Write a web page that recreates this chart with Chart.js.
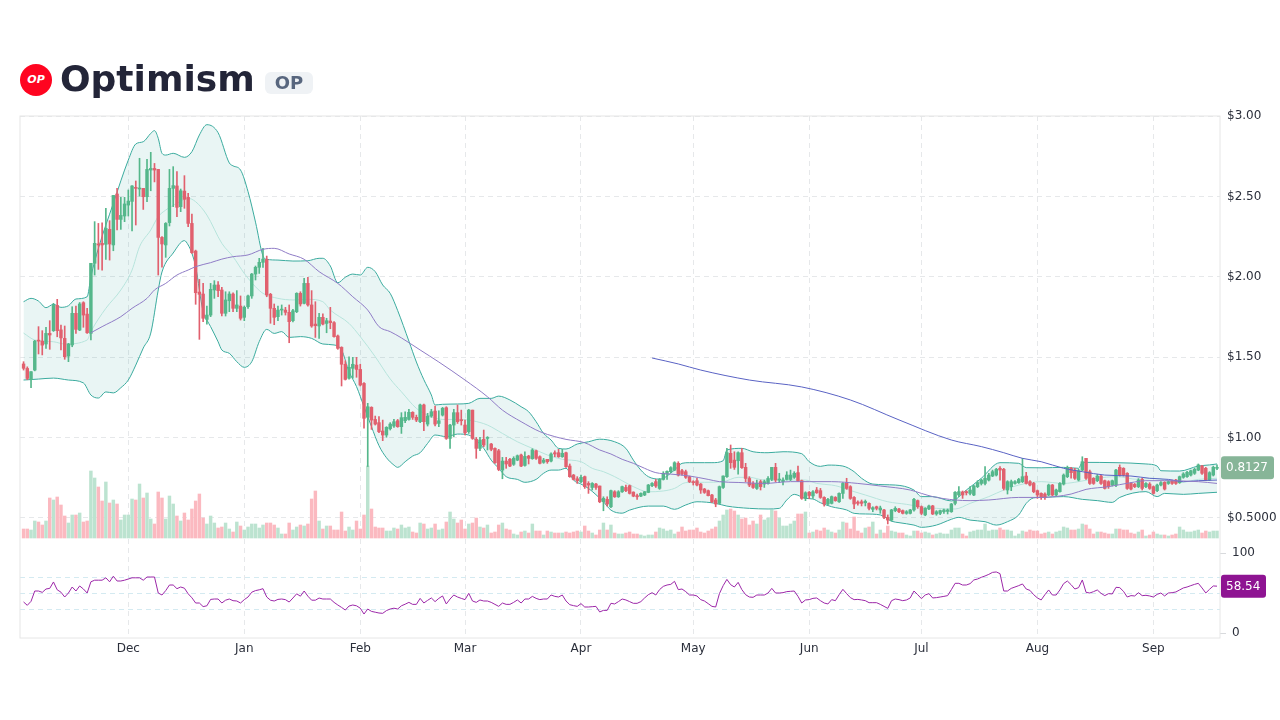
<!DOCTYPE html>
<html>
<head>
<meta charset="utf-8">
<title>Optimism</title>
<script src="https://cdn.jsdelivr.net/npm/chart.js@4"></script>
<style>
	body { margin: 0; background: #fff; font-family: 'DejaVu Sans', sans-serif; }
	#page { position: relative; width: 1280px; height: 720px; overflow: hidden; }
	#price-chart { position: absolute; left: 0; top: 0; }
	#logo { position: absolute; left: 20px; top: 64px; width: 32px; height: 32px; border-radius: 50%; background: #ff0420; color: #fff; font: italic bold 11px/32px 'DejaVu Sans'; text-align: center; }
	#name { position: absolute; left: 60px; top: 61px; font: bold 36px/36px 'DejaVu Sans'; color: #232538; }
	#symbol { position: absolute; left: 265px; top: 72px; width: 48px; height: 22px; border-radius: 6px; background: #eff2f5; color: #58667e; font: bold 18px/22px 'DejaVu Sans'; text-align: center; }
</style>
</head>
<body>
<div id="page">
	<canvas id="price-chart" width="1280" height="720"></canvas>
	<div id="logo">OP</div>
	<div id="name">Optimism</div>
	<div id="symbol">OP</div>
</div>
<script>
'use strict';

const opens = [
	1.458,1.43,1.36,1.42,1.605,1.6,1.582,1.648,1.665,1.822,
	1.67,1.617,1.507,1.576,1.773,1.669,1.839,1.768,1.648,2.084,
	2.204,2.208,2.202,2.295,2.198,2.515,2.357,2.378,2.446,2.469,
	2.556,2.546,2.55,2.498,2.664,2.674,2.668,2.245,2.198,2.337,
	2.55,2.565,2.436,2.533,2.494,2.332,2.16,1.905,1.893,1.735,
	1.762,1.918,1.949,1.918,1.773,1.851,1.893,1.804,1.818,1.748,
	1.814,1.881,2.017,2.059,2.09,2.108,1.891,1.804,1.752,1.793,
	1.793,1.779,1.727,1.783,1.897,1.835,1.959,1.825,1.706,1.694,
	1.748,1.71,1.725,1.715,1.632,1.561,1.456,1.369,1.431,1.451,
	1.424,1.337,1.126,1.188,1.113,1.093,1.041,1.016,1.055,1.072,
	1.105,1.068,1.105,1.113,1.157,1.126,1.099,1.203,1.084,1.134,
	1.165,1.088,1.14,1.186,.995,1.078,1.155,1.109,1.078,1.037,
	1.171,.989,.933,.989,.995,.96,.933,.918,.798,.854,
	.865,.834,.86,.892,.827,.885,.869,.918,.881,.846,
	.865,.854,.906,.906,.881,.906,.823,.767,.744,.726,
	.757,.715,.69,.711,.699,.601,.616,.57,.663,.632,
	.663,.69,.701,.661,.639,.636,.643,.659,.701,.726,
	.684,.74,.773,.788,.798,.84,.794,.788,.757,.726,
	.732,.711,.68,.67,.643,.612,.591,.69,.757,.902,
	.86,.856,.906,.815,.746,.715,.684,.726,.711,.715,
	.74,.815,.736,.726,.74,.74,.753,.782,.732,.622,
	.66,.637,.674,.67,.628,.587,.591,.628,.601,.653,
	.72,.695,.628,.599,.601,.595,.591,.554,.57,.55,
	.55,.504,.487,.546,.556,.546,.529,.529,.55,.608,
	.57,.519,.556,.575,.525,.529,.539,.541,.539,.591,
	.643,.662,.664,.653,.643,.695,.715,.715,.736,.761,
	.767,.809,.803,.674,.695,.715,.72,.726,.761,.726,
	.715,.67,.653,.649,.643,.705,.643,.664,.711,.757,
	.809,.798,.736,.798,.871,.788,.747,.732,.761,.732,
	.726,.705,.705,.815,.809,.778,.715,.709,.695,.74,
	.695,.711,.695,.67,.705,.722,.715,.732,.736,.72,
	.753,.757,.767,.778,.798,.823,.809,.736,.767,.809,
];
const highs = [
	1.472,1.44,1.41,1.605,1.69,1.665,1.686,1.727,1.835,1.86,
	1.7,1.694,1.586,1.814,1.818,1.84,1.845,1.804,2.084,2.343,
	2.332,2.336,2.426,2.349,2.506,2.55,2.494,2.494,2.54,2.567,
	2.596,2.737,2.55,2.73,2.774,2.705,2.668,2.25,2.337,2.668,
	2.685,2.654,2.546,2.629,2.519,2.39,2.166,1.984,1.959,1.818,
	1.959,1.976,1.97,1.934,1.907,1.907,1.901,1.914,1.881,1.818,
	1.887,2.021,2.067,2.115,2.177,2.129,1.897,1.831,1.818,1.825,
	1.81,1.825,1.798,1.901,1.907,1.99,1.997,1.914,1.845,1.773,
	1.769,1.742,1.81,1.721,1.638,1.565,1.478,1.503,1.499,1.499,
	1.456,1.342,1.213,1.192,1.134,1.13,1.109,1.068,1.093,1.113,
	1.113,1.155,1.161,1.176,1.161,1.14,1.209,1.209,1.151,1.176,
	1.196,1.167,1.188,1.192,1.082,1.176,1.203,1.171,1.109,1.176,
	1.171,1.001,1.001,1.047,1.006,.964,.937,.927,.877,.877,
	.871,.881,.892,.898,.912,.89,.931,.923,.887,.871,
	.865,.906,.918,.927,.927,.91,.836,.771,.757,.767,
	.761,.726,.72,.715,.699,.632,.632,.674,.67,.67,
	.699,.705,.705,.663,.649,.657,.665,.709,.721,.74,
	.746,.788,.794,.819,.85,.85,.802,.798,.761,.732,
	.746,.715,.684,.674,.647,.622,.699,.763,.933,.954,
	.912,.912,.933,.84,.757,.726,.736,.736,.736,.757,
	.815,.84,.778,.75,.788,.798,.788,.823,.736,.663,
	.665,.67,.69,.684,.632,.622,.637,.633,.657,.72,
	.747,.701,.633,.606,.612,.612,.595,.57,.574,.574,
	.554,.519,.554,.57,.56,.55,.546,.554,.622,.612,
	.575,.564,.581,.579,.546,.55,.556,.556,.591,.664,
	.695,.668,.67,.695,.705,.732,.742,.819,.778,.798,
	.809,.819,.809,.732,.736,.732,.747,.871,.784,.732,
	.722,.674,.657,.657,.711,.709,.68,.72,.774,.823,
	.815,.809,.803,.881,.871,.798,.751,.771,.767,.736,
	.732,.736,.803,.83,.813,.782,.72,.715,.745,.747,
	.72,.72,.699,.711,.726,.726,.732,.736,.74,.761,
	.782,.79,.798,.809,.836,.827,.815,.788,.823,.83,
];
const lows = [
	1.42,1.36,1.31,1.415,1.52,1.514,1.555,1.549,1.66,1.627,
	1.545,1.487,1.472,1.565,1.648,1.665,1.686,1.648,1.607,2.011,
	2.046,2.042,2.108,2.104,2.162,2.291,2.295,2.343,2.378,2.285,
	2.322,2.502,2.419,2.467,2.535,2.59,2.011,2.06,2.121,2.316,
	2.436,2.374,2.405,2.426,2.312,2.146,1.829,1.611,1.721,1.706,
	1.752,1.866,1.876,1.756,1.756,1.783,1.783,1.783,1.731,1.727,
	1.804,1.866,1.98,2.021,2.059,1.876,1.711,1.702,1.727,1.762,
	1.762,1.59,1.719,1.777,1.818,1.831,1.818,1.686,1.623,1.617,
	1.7,1.652,1.677,1.625,1.549,1.321,1.358,1.364,1.369,1.375,
	1.321,1.058,.82,1.051,1.078,1.03,.981,1.002,1.047,1.064,
	1.064,1.026,1.093,1.109,1.113,1.099,1.093,1.043,1.072,1.126,
	1.072,1.068,1.134,.989,.933,1.006,1.088,1.078,1.016,1.026,
	.989,.871,.918,.943,.923,.918,.84,.794,.744,.809,
	.819,.827,.856,.819,.823,.836,.865,.865,.836,.84,
	.84,.848,.881,.877,.877,.815,.753,.736,.715,.72,
	.684,.653,.674,.678,.595,.545,.574,.564,.628,.628,
	.659,.663,.649,.632,.616,.632,.639,.657,.695,.69,
	.678,.736,.74,.782,.794,.761,.767,.746,.72,.705,
	.699,.653,.653,.637,.595,.57,.587,.684,.753,.809,
	.802,.773,.809,.726,.695,.684,.678,.674,.69,.711,
	.732,.726,.72,.705,.736,.732,.746,.726,.616,.608,
	.62,.622,.653,.622,.574,.58,.587,.604,.597,.622,
	.678,.616,.558,.579,.575,.575,.55,.539,.55,.529,
	.496,.463,.481,.539,.533,.525,.523,.525,.543,.56,
	.521,.514,.552,.521,.517,.521,.529,.525,.535,.581,
	.633,.622,.643,.643,.639,.689,.705,.705,.73,.757,
	.761,.736,.674,.649,.67,.711,.715,.72,.711,.699,
	.657,.622,.616,.616,.639,.639,.637,.66,.705,.751,
	.747,.74,.73,.794,.74,.709,.709,.726,.709,.68,
	.684,.699,.695,.761,.761,.678,.674,.689,.689,.674,
	.689,.678,.649,.664,.699,.674,.709,.709,.709,.715,
	.747,.753,.761,.771,.794,.771,.732,.732,.761,.8,
];
const closes = [
	1.431,1.368,1.41,1.6,1.6,1.575,1.648,1.638,1.822,1.665,
	1.62,1.503,1.582,1.773,1.673,1.831,1.762,1.652,2.084,2.208,
	2.198,2.198,2.301,2.204,2.506,2.357,2.382,2.453,2.471,2.565,
	2.55,2.55,2.498,2.668,2.674,2.664,2.245,2.204,2.332,2.55,
	2.567,2.432,2.535,2.482,2.332,2.15,1.901,1.891,1.742,1.762,
	1.922,1.949,1.914,1.773,1.856,1.893,1.804,1.825,1.742,1.81,
	1.881,2.017,2.059,2.09,2.11,1.887,1.804,1.748,1.793,1.798,
	1.779,1.721,1.789,1.897,1.831,1.959,1.825,1.694,1.696,1.748,
	1.706,1.727,1.715,1.628,1.555,1.456,1.362,1.437,1.456,1.424,
	1.327,1.12,1.192,1.109,1.084,1.037,1.016,1.064,1.084,1.099,
	1.068,1.124,1.126,1.157,1.126,1.109,1.203,1.099,1.134,1.161,
	1.084,1.105,1.182,.995,1.078,1.155,1.099,1.105,1.03,1.171,
	.995,.933,.985,.954,.998,.927,.844,.802,.854,.836,
	.823,.871,.887,.823,.883,.871,.923,.871,.84,.86,
	.85,.898,.898,.881,.902,.819,.757,.74,.732,.753,
	.695,.705,.715,.69,.601,.622,.587,.67,.632,.663,
	.695,.67,.653,.636,.632,.653,.663,.705,.715,.699,
	.74,.778,.79,.813,.844,.767,.773,.753,.726,.72,
	.705,.674,.659,.639,.601,.587,.695,.761,.906,.844,
	.815,.906,.813,.746,.705,.69,.715,.695,.726,.746,
	.815,.736,.74,.736,.767,.767,.778,.73,.622,.657,
	.64,.663,.657,.628,.587,.616,.633,.608,.653,.715,
	.684,.622,.587,.591,.591,.603,.56,.564,.56,.562,
	.504,.487,.55,.56,.539,.529,.539,.55,.616,.57,
	.529,.56,.575,.525,.539,.546,.55,.55,.587,.66,
	.664,.643,.657,.674,.699,.72,.736,.747,.767,.788,
	.803,.798,.684,.726,.726,.726,.74,.757,.715,.705,
	.664,.643,.628,.628,.705,.643,.674,.715,.767,.815,
	.782,.747,.794,.85,.747,.715,.715,.761,.715,.684,
	.695,.732,.798,.767,.767,.684,.68,.695,.736,.684,
	.715,.684,.653,.705,.72,.68,.726,.715,.715,.757,
	.774,.784,.794,.803,.83,.778,.736,.782,.815,.8127,
];
const volumes = [
	9,9,8,17,16,13,17,40,38,41,
	33,22,15,23,23,25,16,17,67,60,
	51,37,56,35,38,34,18,23,23,39,
	38,54,40,45,19,14,46,40,19,42,
	34,22,17,25,18,29,37,44,20,14,
	22,15,10,11,15,9,6,16,12,8,
	11,14,14,10,13,15,15,13,10,4,
	4,15,8,11,13,12,14,39,47,17,
	9,12,12,8,8,26,7,11,8,17,
	9,23,72,29,11,10,10,7,7,10,
	9,13,10,11,6,5,15,14,9,10,
	14,8,9,16,26,19,15,18,9,14,
	15,20,11,10,13,5,6,13,15,9,
	8,4,3,6,7,5,14,7,7,3,
	7,6,5,5,5,6,5,6,7,6,
	12,7,5,3,8,15,8,13,5,4,
	4,5,6,4,4,3,2,3,3,6,
	10,9,7,8,4,6,11,7,8,8,
	10,6,5,7,9,11,17,23,28,29,
	27,23,19,20,13,17,14,23,18,20,
	28,27,20,12,12,14,17,24,24,26,
	5,6,8,7,10,8,6,5,8,16,
	15,9,21,7,5,10,11,16,4,8,
	5,12,7,6,5,5,3,2,7,7,
	5,6,5,3,4,5,4,4,8,10,
	10,4,2,6,7,8,8,14,7,8,
	8,10,8,8,7,2,4,7,6,8,
	7,7,4,5,6,4,6,7,11,10,
	8,8,9,14,13,9,4,6,6,5,
	4,4,9,9,8,8,5,4,6,8,
	2,3,6,4,3,3,2,3,4,11,
	8,6,6,7,8,5,7,6,7,7,
];
const rsiValues = [
	38.8,34.6,39.6,52.5,52.5,50.8,55,55.8,63.8,54,
	51,45,50,57.5,52.5,58.8,55,50,64,66,
	66,66,69,64,71,65,65,66,67.5,69,
	69,69,66,70,70,70,50,47.5,53,60,
	60,55.4,57.5,56,49,44,37.5,37.5,33,34,
	42,42.5,42.5,37.5,41,42.5,40.4,40,37.5,41.7,
	45,51,53,54,55.4,45,41,40,42,42.5,
	41.7,38.7,43.7,49,46,52.5,46,41,41,43.7,
	42.5,42.5,42.5,38.3,35,32,28.7,33.7,35,34,
	31,23.7,30,27,26,25,24.6,28,30,31,
	30,34,36,38.3,35.8,35.8,43.3,37.5,40.8,43.8,
	39.2,43.3,46.3,36.3,42.5,47.5,45,43.3,41.7,49.6,
	40,38.3,41.3,40,40,38.3,35.8,33.3,37.5,35.8,
	35.8,38.3,41.3,37.5,42.5,42.5,45.8,43.3,41.7,42.5,
	42.5,47.5,45.8,45,47.5,40,35.4,34.2,33.3,36.7,
	32.5,32.5,32.9,33.3,26.3,28.3,28.3,37.1,36.3,39.2,
	42.5,41.3,39.2,37.1,37.1,39.2,43.8,47.9,50.4,47.5,
	54.2,58.3,60,60.8,64.6,54.2,55,51.7,47.5,47.5,
	46.3,41.7,40,36.7,33.3,32.5,49.2,59.2,67,60.4,
	57.5,63.3,54.2,47.9,45,44.6,47.5,47.5,47.5,50,
	55.8,50,50,50.4,51.7,52.1,52.5,45.8,37.5,41.3,
	41.7,43.3,43.8,40.4,37.5,36.3,41.7,40.4,47.9,54.6,
	49.2,44.2,41.7,42,41.3,40.4,37.9,37.9,37.9,35.8,
	33.3,30.8,40.4,42.5,41.7,40.4,41.3,43.8,52.5,47.9,
	42.9,47.5,49.2,43.8,44.2,45,45.8,46.7,54.2,62.1,
	62.1,60,60,61.7,66.3,67.5,69.6,71.3,73.3,75.8,
	76.3,74.2,52.5,52.5,55.8,57.5,59.2,61.3,55,53.3,
	47.9,43.8,41.3,47.9,53.8,47.5,47.5,53.8,61.7,65,
	60.4,55,56.7,66.3,50.8,50,51.7,53.8,49.6,46.7,
	49.2,48.8,57.1,56.7,52.1,45,46.7,46.3,50.4,46.7,
	47.1,46.3,45,48.3,50,46.3,50,50.4,51.3,53.8,
	56.3,57.5,59.2,60.8,62.1,56.3,50,54.6,58.8,58.54,
];

// lines were read at their turning points, so each one has its own list of days
const upperDays = [
	0,2,4,6,8,10,12,14,17,18,20,24,28,30,32,34,35,36,37,38,
	40,43,45,47,49,52,55,56,58,60,62,64,65,68,72,76,79,80,82,84,
	86,88,90,92,94,96,98,100,103,105,107,109,110,112,116,119,122,125,127,130,
	133,135,137,139,141,143,145,148,151,154,158,161,163,165,167,170,174,176,178,182,
	184,187,188,192,195,199,203,208,210,213,215,219,222,224,227,233,238,240,243,248,
	252,256,261,266,268,272,278,282,283,292,300,303,304,309,314,317,319,
];
const upperBand = [
	1.845,1.866,1.849,1.808,1.829,1.81,1.82,1.862,1.876,2.0,2.177,2.457,2.726,2.826,2.84,2.892,2.909,2.861,2.768,2.757,
	2.768,2.743,2.778,2.882,2.946,2.896,2.708,2.69,2.664,2.53,2.34,2.13,2.109,2.104,2.098,2.1,2.115,2.115,2.067,1.963,
	1.997,2.017,2.011,2.059,2.032,1.949,1.897,1.79,1.6,1.47,1.36,1.265,1.203,1.207,1.209,1.213,1.244,1.244,1.258,1.234,
	1.192,1.161,1.099,1.026,.985,.933,.929,.96,.974,.99,.974,.933,.86,.798,.757,.742,.798,.84,.844,.844,
	.844,.856,.923,.933,.912,.906,.912,.9,.85,.821,.829,.823,.788,.747,.711,.705,.674,.633,.633,.606,
	.674,.747,.844,.84,.813,.812,.815,.809,.846,.844,.836,.823,.794,.792,.823,.83,.836,
];
const lowerDays = [
	0,4,8,12,16,18,20,22,24,26,28,30,32,34,36,37,40,43,44,45,
	46,48,49,50,52,53,55,57,59,61,63,65,67,69,71,74,77,80,83,85,
	87,89,91,93,95,97,99,100,102,104,106,108,110,113,116,119,121,123,125,127,
	129,132,134,137,139,141,143,145,147,149,151,153,155,157,160,162,167,171,174,177,
	180,185,188,194,199,202,204,206,209,211,213,216,220,222,225,229,232,234,238,240,
	244,248,250,253,257,260,263,266,268,270,272,278,283,287,291,293,300,303,305,310,314,319,
];
const lowerBand = [
	1.358,1.364,1.37,1.358,1.34,1.265,1.246,1.284,1.278,1.31,1.358,1.451,1.557,1.65,1.918,2.03,2.148,2.225,2.198,2.146,
	2.063,1.783,1.731,1.69,1.596,1.545,1.524,1.472,1.437,1.472,1.597,1.673,1.648,1.659,1.623,1.628,1.617,1.582,1.576,1.545,
	1.41,1.317,1.192,1.068,.95,.875,.829,.815,.85,.885,.906,.964,1.016,1.006,1.022,1.016,.981,.933,.86,.809,
	.757,.74,.722,.74,.778,.798,.798,.809,.736,.711,.684,.645,.601,.549,.53,.549,.574,.574,.554,.581,
	.601,.591,.574,.56,.556,.56,.612,.647,.622,.618,.595,.57,.55,.529,.525,.519,.48,.471,.456,.442,
	.456,.492,.504,.487,.477,.456,.477,.519,.591,.625,.628,.633,.616,.608,.597,.628,.664,.633,.653,.647,.653,.66,
];
const middleDays = [
	0,3,8,11,17,18,22,26,29,31,34,36,38,41,44,46,49,53,56,59,
	62,64,68,72,76,80,82,87,90,94,98,101,105,108,112,117,120,124,128,132,
	136,140,144,149,152,155,158,163,167,171,174,177,182,187,191,194,198,203,209,212,
	216,218,222,225,231,236,240,244,249,253,258,262,266,272,278,282,287,292,298,302,309,314,319,
];
const middleBand = [
	1.65,1.607,1.596,1.582,1.607,1.659,1.804,1.918,2.042,2.187,2.291,2.374,2.415,2.457,2.488,2.467,2.384,2.208,2.125,2.021,
	1.938,1.897,1.866,1.856,1.86,1.845,1.793,1.71,1.628,1.503,1.365,1.285,1.182,1.14,1.113,1.113,1.105,1.078,1.026,.974,
	.933,.892,.865,.85,.809,.788,.757,.695,.663,.668,.684,.72,.722,.726,.753,.753,.736,.736,.736,.715,
	.705,.695,.664,.643,.601,.585,.57,.56,.556,.591,.633,.674,.705,.726,.715,.726,.747,.757,.74,.747,.72,.74,.747,
];
const ma50Days = [
	18,21,26,29,33,35,38,41,44,46,50,53,56,60,64,67,71,75,79,84,
	88,92,95,98,101,106,111,118,124,128,133,138,142,145,150,154,157,160,163,166,
	169,173,178,183,186,191,198,205,210,216,223,229,237,240,243,249,253,258,266,272,
	280,284,290,296,300,305,314,319,
];
const ma50 = [
	1.652,1.69,1.752,1.804,1.866,1.918,1.959,2.011,2.042,2.063,2.088,2.11,2.125,2.136,2.171,2.177,2.142,2.109,2.032,1.959,
	1.876,1.793,1.69,1.659,1.62,1.545,1.47,1.358,1.254,1.171,1.099,1.037,1.006,.989,.968,.923,.898,.865,.84,.809,
	.782,.773,.761,.74,.726,.721,.715,.726,.726,.726,.715,.699,.674,.653,.633,.612,.608,.612,.628,.628,
	.649,.678,.695,.72,.732,.732,.726,.715,
];
const ma200Days = [168,175,181,194,208,221,234,248,256,262,267,272,278,283,289,296,301,306,310,314,319];
const ma200 = [1.495,1.458,1.42,1.358,1.315,1.234,1.11,.985,.944,.906,.871,.85,.809,.788,.767,.761,.747,.74,.726,.732,.736];

const monthDays = [28,59,90,118,149,179,210,240,271,302];
const monthLabels = ['Dec','Jan','Feb','Mar','Apr','May','Jun','Jul','Aug','Sep'];
const priceTicks = [0.5,1,1.5,2,2.5,3];
const priceLabels = ['$0.5000','$1.00','$1.50','$2.00','$2.50','$3.00'];
const rsiTicks = [0,30,50,70,100];
const rsiLabels = ['0','','50','','100'];

const GREEN = '#55b78b';
const RED = '#e1606e';
const GRID_DASH = [5,4];
const GRID_COLOR = '#e6e8ea';

function toPoints(days, values) {
	return days.map((day, i) => ({ x: day, y: values[i] }));
}

function candleColor(i) {
	return closes[i] >= opens[i] ? GREEN : RED;
}

function buildLine(label, days, values, color, order, extra) {
	return Object.assign({
		type: 'line',
		label: label,
		data: toPoints(days, values),
		yAxisID: 'y',
		borderColor: color,
		borderWidth: 1,
		pointRadius: 0,
		cubicInterpolationMode: 'monotone',
		order: order,
	}, extra);
}

function buildDatasets() {
	const days = closes.map((c, i) => i);
	return [
		buildLine('Upper band', upperDays, upperBand, '#3aab9e', 6, { fill: '+1', backgroundColor: 'rgba(58, 171, 158, 0.115)' }),
		buildLine('Lower band', lowerDays, lowerBand, '#3aab9e', 6),
		buildLine('Middle band', middleDays, middleBand, '#b7e4dc', 5),
		{
			type: 'bar',
			label: 'Volume',
			data: days.map((i) => ({ x: i, y: volumes[i] })),
			yAxisID: 'vol',
			backgroundColor: days.map((i) => closes[i] >= opens[i] ? '#bce3d0' : '#fbb9c0'),
			barThickness: 2.8,
			grouped: false,
			order: 7,
		},
		{
			type: 'bar',
			label: 'Wick',
			data: days.map((i) => ({ x: i, y: [lows[i], highs[i]] })),
			yAxisID: 'y',
			backgroundColor: days.map(candleColor),
			barThickness: 1,
			grouped: false,
			order: 3,
		},
		{
			type: 'bar',
			label: 'Body',
			data: days.map((i) => ({ x: i, y: [opens[i], closes[i]] })),
			yAxisID: 'y',
			backgroundColor: days.map(candleColor),
			barThickness: 2.8,
			minBarLength: 1,
			grouped: false,
			order: 2,
		},
		buildLine('MA 50', ma50Days, ma50, '#8f7cc6', 1),
		buildLine('MA 200', ma200Days, ma200, '#5a63c4', 1),
		buildLine('RSI', days, rsiValues, '#9c27a8', 0, { yAxisID: 'rsi', cubicInterpolationMode: 'default' }),
	];
}

function getX() {
	return {
		type: 'linear',
		offset: false,
		min: -0.949,
		max: 319.8,
		afterBuildTicks: (axis) => {
			axis.ticks = monthDays.map((day) => ({ value: day }));
		},
		afterFit: (axis) => {
			axis.height = 82;
		},
		grid: { color: GRID_COLOR, drawTicks: false, offset: false },
		border: { display: false, dash: GRID_DASH },
		ticks: {
			autoSkip: false,
			maxRotation: 0,
			padding: 4,
			callback: (value) => monthLabels[monthDays.indexOf(value)],
		},
	};
}

function getPriceAxis() {
	return {
		position: 'right',
		stack: 'panes',
		stackWeight: 422,
		weight: 0,
		min: 0.3756,
		max: 3,
		afterBuildTicks: (axis) => {
			axis.ticks = priceTicks.map((v) => ({ value: v }));
		},
		afterFit: (axis) => {
			axis.width = 60;
		},
		grid: { color: GRID_COLOR, drawTicks: false },
		border: { display: false, dash: GRID_DASH },
		ticks: {
			autoSkip: false,
			padding: 7,
			callback: (value) => priceLabels[priceTicks.indexOf(value)],
		},
	};
}

function getRsiAxis() {
	return {
		position: 'right',
		stack: 'panes',
		stackWeight: 100,
		weight: 1,
		min: -6.25,
		max: 118.75,
		afterBuildTicks: (axis) => {
			axis.ticks = rsiTicks.map((v) => ({ value: v }));
		},
		afterFit: (axis) => {
			axis.width = 60;
		},
		grid: {
			tickLength: 6,
			color: (ctx) => (ctx.tick.value === 0 || ctx.tick.value === 100 ? 'transparent' : '#d4eaf1'),
			tickColor: (ctx) => (ctx.tick.value === 0 || ctx.tick.value === 100 ? '#d8dadd' : 'transparent'),
		},
		border: { display: false, dash: GRID_DASH },
		ticks: {
			autoSkip: false,
			padding: 6,
			callback: (value) => rsiLabels[rsiTicks.indexOf(value)],
		},
	};
}

function getVolumeAxis() {
	return { display: false, position: 'right', min: -100, max: 422 };
}

function drawTag(ctx, left, width, centerY, fill, text) {
	ctx.save();
	ctx.fillStyle = fill;
	ctx.beginPath();
	ctx.roundRect(left, centerY - 11.5, width, 23, 3);
	ctx.fill();
	ctx.fillStyle = '#fff';
	ctx.font = "12px 'DejaVu Sans'";
	ctx.textAlign = 'left';
	ctx.textBaseline = 'middle';
	ctx.fillText(text, left + 5, centerY + 0.5);
	ctx.restore();
}

const chartFrame = {
	id: 'chartFrame',
	beforeDatasetsDraw(chart) {
		const { ctx, chartArea } = chart;
		ctx.save();
		ctx.strokeStyle = '#e6e6e6';
		ctx.lineWidth = 1;
		ctx.strokeRect(chartArea.left, chartArea.top, chartArea.right - chartArea.left, chartArea.bottom - chartArea.top);
		ctx.restore();
	},
	afterDraw(chart) {
		const { ctx, scales } = chart;
		const lastClose = closes[closes.length - 1];
		const lastRsi = rsiValues[rsiValues.length - 1];
		drawTag(ctx, 1221, 53, scales.y.getPixelForValue(lastClose), '#87b598', lastClose.toFixed(4));
		drawTag(ctx, 1221, 45, scales.rsi.getPixelForValue(lastRsi), '#8e1492', lastRsi.toFixed(2));
	},
};

function makeChart() {
	Chart.defaults.font.family = "'DejaVu Sans'";
	Chart.defaults.font.size = 12;
	Chart.defaults.color = '#2b2f3b';
	const ctx = document.querySelector('#price-chart').getContext('2d');
	return new Chart(ctx, {
		data: { datasets: buildDatasets() },
		options: {
			responsive: false,
			animation: false,
			layout: { padding: { left: 20, top: 116 } },
			plugins: {
				legend: { display: false },
				tooltip: { enabled: false },
				filler: { propagate: false },
			},
			scales: {
				x: getX(),
				y: getPriceAxis(),
				rsi: getRsiAxis(),
				vol: getVolumeAxis(),
			},
		},
		plugins: [chartFrame],
	});
}

makeChart();
</script>
</body>
</html>
